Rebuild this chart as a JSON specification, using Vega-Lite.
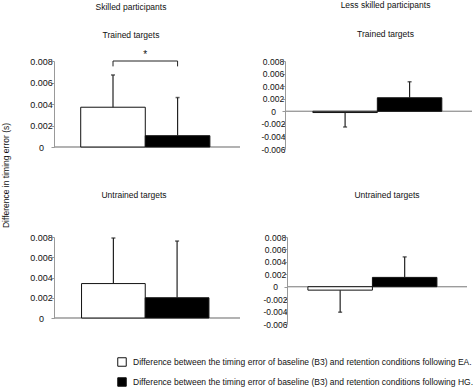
{
  "$schema": "https://vega.github.io/schema/vega-lite/v6.json",
  "background": "white",
  "padding": {"left": 1, "top": 1, "right": 0, "bottom": 0},
  "config": {
    "font": "Liberation Sans",
    "view": {"stroke": null},
    "title": {"fontSize": 8.5, "subtitleFontSize": 8.5, "fontWeight": "normal", "color": "#111", "subtitleColor": "#111", "anchor": "middle", "subtitlePadding": 20, "font": "Liberation Sans", "subtitleFont": "Liberation Sans"},
    "axis": {"grid": false, "domainColor": "#999", "tickColor": "#999", "tickSize": 3, "labelColor": "#111", "labelFont": "Liberation Sans", "labelOverlap": false, "tickCount": 20}
  },
  "datasets": {
    "bars": [
      {"panel": "TL", "cond": "EA", "condition": "Difference between the timing error of baseline (B3) and retention conditions following EA.", "mean": 0.0037, "tip": 0.0067},
      {"panel": "TL", "cond": "HG", "condition": "Difference between the timing error of baseline (B3) and retention conditions following HG.", "mean": 0.00105, "tip": 0.0046},
      {"panel": "TR", "cond": "EA", "condition": "Difference between the timing error of baseline (B3) and retention conditions following EA.", "mean": -0.0002, "tip": -0.0025},
      {"panel": "TR", "cond": "HG", "condition": "Difference between the timing error of baseline (B3) and retention conditions following HG.", "mean": 0.00215, "tip": 0.0047},
      {"panel": "BL", "cond": "EA", "condition": "Difference between the timing error of baseline (B3) and retention conditions following EA.", "mean": 0.0034, "tip": 0.0079},
      {"panel": "BL", "cond": "HG", "condition": "Difference between the timing error of baseline (B3) and retention conditions following HG.", "mean": 0.002, "tip": 0.0076},
      {"panel": "BR", "cond": "EA", "condition": "Difference between the timing error of baseline (B3) and retention conditions following EA.", "mean": -0.00055, "tip": -0.0041},
      {"panel": "BR", "cond": "HG", "condition": "Difference between the timing error of baseline (B3) and retention conditions following HG.", "mean": 0.0015, "tip": 0.0048}
    ],
    "bracket": [
      {"cond": "EA", "y": 0.0075, "o": 1},
      {"cond": "EA", "y": 0.008, "o": 2},
      {"cond": "HG", "y": 0.008, "o": 3},
      {"cond": "HG", "y": 0.0075, "o": 4}
    ],
    "star": [
      {"cond": "EA", "y": 0.0086, "label": "*"}
    ]
  },
  "bounds": "flush",
  "spacing": 176,
  "resolve": {"scale": {"x": "independent", "y": "independent", "fill": "shared"}, "legend": {"fill": "shared"}},
  "vconcat": [
    {
      "hconcat": [
        {
          "width": 186, "height": 86,
          "title": {"text": "Skilled participants", "subtitle": "Trained targets", "offset": 10, "dx": -16},
          "data": {"name": "bars"},
          "transform": [{"filter": "datum.panel == 'TL'"}],
          "layer": [
            {"mark": {"type": "rule", "color": "#999"}, "encoding": {"y": {"datum": 0, "type": "quantitative"}}},
            {"mark": {"type": "bar", "stroke": "#111", "strokeWidth": 1},
             "encoding": {
               "x": {"field": "cond", "type": "nominal", "scale": {"paddingInner": 0, "paddingOuter": 0.44, "align": 0.47}, "axis": null},
               "y": {"field": "mean", "type": "quantitative", "scale": {"domain": [0, 0.008], "nice": false, "zero": false},
                     "axis": {"values": [0, 0.002, 0.004, 0.006, 0.008], "tickCount": 20, "labelAlign": "center", "labelOverlap": false, "labelExpr": "datum.value == 0 ? '0' : replace(format(datum.value, '.3f'), '\u2212', '-')", "labelPadding": 10, "labelFontSize": 9,
                              "title": "Difference in timing error (s)", "titleFontSize": 8.5, "titleFontWeight": "normal", "titleColor": "#111", "titleX": -49, "titleY": 114, "titleAngle": -90, "titleAlign": "center", "titleBaseline": "middle"}},
               "fill": {"field": "condition", "type": "nominal", "scale": {"range": ["#ffffff", "#000000"]},
                        "legend": {"orient": "none", "legendX": 63, "legendY": 296, "title": null, "symbolType": "square", "symbolSize": 72, "symbolStrokeColor": "#111", "symbolStrokeWidth": 1, "labelFontSize": 8.5, "labelOffset": 6, "rowPadding": 6, "labelLimit": 500, "labelColor": "#111", "labelFont": "Liberation Sans"}}
             }},
            {"mark": {"type": "rule", "color": "#222", "strokeWidth": 1.2},
             "encoding": {"x": {"field": "cond", "type": "nominal"}, "y": {"field": "mean", "type": "quantitative"}, "y2": {"field": "tip"}}},
            {"mark": {"type": "tick", "color": "#222", "size": 4, "thickness": 1.5, "orient": "horizontal"},
             "encoding": {"x": {"field": "cond", "type": "nominal"}, "y": {"field": "tip", "type": "quantitative"}}},
            {"data": {"name": "bracket"}, "mark": {"type": "line", "color": "#222", "strokeWidth": 1},
             "encoding": {"x": {"field": "cond", "type": "nominal"}, "y": {"field": "y", "type": "quantitative"}, "order": {"field": "o"}}},
            {"data": {"name": "star"}, "mark": {"type": "text", "fontSize": 10, "color": "#111", "baseline": "middle", "font": "Liberation Sans"},
             "encoding": {"x": {"field": "cond", "type": "nominal", "bandPosition": 1}, "y": {"field": "y", "type": "quantitative"}, "text": {"field": "label"}}}
          ]
        },
        {
          "width": 187, "height": 88,
          "title": {"text": "Less skilled participants", "subtitle": "Trained targets", "offset": 19, "dx": 7},
          "data": {"name": "bars"},
          "transform": [{"filter": "datum.panel == 'TR'"}],
          "layer": [
            {"mark": {"type": "rule", "color": "#999"}, "encoding": {"y": {"datum": 0, "type": "quantitative"}}},
            {"mark": {"type": "bar", "stroke": "#111", "strokeWidth": 1},
             "encoding": {
               "x": {"field": "cond", "type": "nominal", "scale": {"paddingInner": 0, "paddingOuter": 0.45, "align": 0.48}, "axis": null},
               "y": {"field": "mean", "type": "quantitative", "scale": {"domain": [-0.006, 0.008], "nice": false, "zero": false},
                     "axis": {"values": [-0.006, -0.004, -0.002, 0, 0.002, 0.004, 0.006, 0.008], "tickCount": 20, "labelAlign": "center", "labelOverlap": false, "labelExpr": "datum.value == 0 ? '0' : replace(format(datum.value, '.3f'), '\u2212', '-')", "labelPadding": 9, "labelFontSize": 8.5, "title": null}},
               "fill": {"field": "condition", "type": "nominal", "scale": {"range": ["#ffffff", "#000000"]}}
             }},
            {"mark": {"type": "rule", "color": "#222", "strokeWidth": 1.2},
             "encoding": {"x": {"field": "cond", "type": "nominal"}, "y": {"field": "mean", "type": "quantitative"}, "y2": {"field": "tip"}}},
            {"mark": {"type": "tick", "color": "#222", "size": 4, "thickness": 1.5, "orient": "horizontal"},
             "encoding": {"x": {"field": "cond", "type": "nominal"}, "y": {"field": "tip", "type": "quantitative"}}}
          ]
        }
      ],
      "spacing": 45,
      "bounds": "flush",
      "resolve": {"scale": {"x": "independent", "y": "independent", "fill": "shared"}, "legend": {"fill": "shared"}}
    },
    {
      "hconcat": [
        {
          "width": 186, "height": 81,
          "title": {"text": "Untrained targets", "offset": 34, "dx": -13},
          "data": {"name": "bars"},
          "transform": [{"filter": "datum.panel == 'BL'"}],
          "layer": [
            {"mark": {"type": "rule", "color": "#999"}, "encoding": {"y": {"datum": 0, "type": "quantitative"}}},
            {"mark": {"type": "bar", "stroke": "#111", "strokeWidth": 1},
             "encoding": {
               "x": {"field": "cond", "type": "nominal", "scale": {"paddingInner": 0, "paddingOuter": 0.46, "align": 0.47}, "axis": null},
               "y": {"field": "mean", "type": "quantitative", "scale": {"domain": [0, 0.008], "nice": false, "zero": false},
                     "axis": {"values": [0, 0.002, 0.004, 0.006, 0.008], "tickCount": 20, "labelAlign": "center", "labelOverlap": false, "labelExpr": "datum.value == 0 ? '0' : replace(format(datum.value, '.3f'), '\u2212', '-')", "labelPadding": 10, "labelFontSize": 9, "title": null}},
               "fill": {"field": "condition", "type": "nominal", "scale": {"range": ["#ffffff", "#000000"]}}
             }},
            {"mark": {"type": "rule", "color": "#222", "strokeWidth": 1.2},
             "encoding": {"x": {"field": "cond", "type": "nominal"}, "y": {"field": "mean", "type": "quantitative"}, "y2": {"field": "tip"}}},
            {"mark": {"type": "tick", "color": "#222", "size": 4, "thickness": 1.5, "orient": "horizontal"},
             "encoding": {"x": {"field": "cond", "type": "nominal"}, "y": {"field": "tip", "type": "quantitative"}}}
          ]
        },
        {
          "width": 180, "height": 87,
          "title": {"text": "Untrained targets", "offset": 34, "dx": 10},
          "data": {"name": "bars"},
          "transform": [{"filter": "datum.panel == 'BR'"}],
          "layer": [
            {"mark": {"type": "rule", "color": "#999"}, "encoding": {"y": {"datum": 0, "type": "quantitative"}}},
            {"mark": {"type": "bar", "stroke": "#111", "strokeWidth": 1},
             "encoding": {
               "x": {"field": "cond", "type": "nominal", "scale": {"paddingInner": 0, "paddingOuter": 0.395, "align": 0.41}, "axis": null},
               "y": {"field": "mean", "type": "quantitative", "scale": {"domain": [-0.006, 0.008], "nice": false, "zero": false},
                     "axis": {"values": [-0.006, -0.004, -0.002, 0, 0.002, 0.004, 0.006, 0.008], "tickCount": 20, "labelAlign": "center", "labelOverlap": false, "labelExpr": "datum.value == 0 ? '0' : replace(format(datum.value, '.3f'), '\u2212', '-')", "labelPadding": 9, "labelFontSize": 8.5, "title": null}},
               "fill": {"field": "condition", "type": "nominal", "scale": {"range": ["#ffffff", "#000000"]}}
             }},
            {"mark": {"type": "rule", "color": "#222", "strokeWidth": 1.2},
             "encoding": {"x": {"field": "cond", "type": "nominal"}, "y": {"field": "mean", "type": "quantitative"}, "y2": {"field": "tip"}}},
            {"mark": {"type": "tick", "color": "#222", "size": 4, "thickness": 1.5, "orient": "horizontal"},
             "encoding": {"x": {"field": "cond", "type": "nominal"}, "y": {"field": "tip", "type": "quantitative"}}}
          ]
        }
      ],
      "spacing": 47,
      "bounds": "flush",
      "resolve": {"scale": {"x": "independent", "y": "independent", "fill": "shared"}, "legend": {"fill": "shared"}}
    }
  ]
}
